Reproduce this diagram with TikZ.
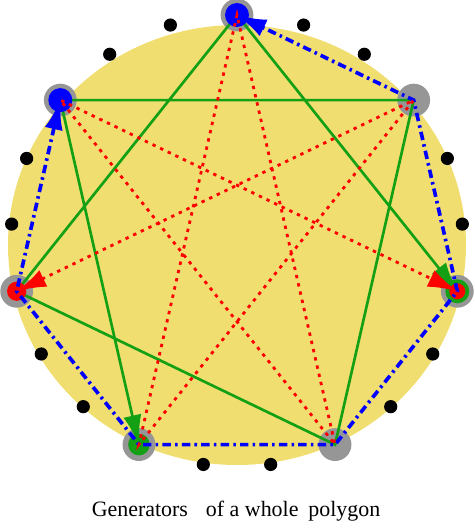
\documentclass[tikz,border=0pt]{standalone}
\usepackage{fontspec}
\setmainfont{Liberation Serif}
\usepackage{xcolor}
\usepackage{tikz}
\usetikzlibrary{arrows.meta}
\definecolor{sand}{RGB}{240,222,112}
\definecolor{ringgray}{RGB}{150,150,150}
\definecolor{gengreen}{RGB}{20,160,20}
\tikzset{
  bothtips/.style={{Latex[length=21pt,width=13pt]}-{Latex[length=21pt,width=13pt]}},
  genline/.style={gengreen,line width=1.9pt},
  sideline/.style={blue,line width=2.6pt,dash pattern=on 6pt off 3pt on 1.8pt off 3pt},
  starline/.style={red,line width=2pt,dash pattern=on 2.4pt off 3.6pt}
}

\begin{document}
\begin{tikzpicture}
\useasboundingbox (-5.925,-7.25) rectangle (5.925,6.025);
\fill[sand] (0,-0.1) ellipse (5.725 and 5.5); % background disk
\foreach \i in {0,...,20}
  \coordinate (p\i) at (90+\i*360/21:5.65);
\foreach \i in {1,2,4,5,7,8,10,11,13,14,16,17,19,20}
  \fill (p\i) circle (0.165);
\foreach \i in {0,3,...,18}
  \fill[ringgray] (p\i) circle (0.41); % vertices of the heptagon
\draw[genline,bothtips] (p9) -- (p3) -- (p18) -- (p12) -- (p6) -- (p0) -- (p15);
\fill[blue] (p0) circle (0.3);
\fill[blue] (p3) circle (0.3);
\fill[red] (p6) circle (0.24);
\fill[gengreen] (p9) circle (0.27);
\fill[gengreen] (p15) circle (0.3);
\fill[red] (p15) circle (0.2);
\draw[sideline,bothtips] (p3) -- (p6) -- (p9) -- (p12) -- (p15) -- (p18) -- (p0);
\draw[starline,bothtips] (p6) -- (p18) -- (p9) -- (p0) -- (p12) -- (p3) -- (p15);
\node[font=\fontsize{15.6}{18}\selectfont,anchor=base] (caption) at (-0.025,-6.875)
  {Generators\hspace{12.8pt}of a whole\hspace{7pt}polygon};
\end{tikzpicture}
\end{document}
